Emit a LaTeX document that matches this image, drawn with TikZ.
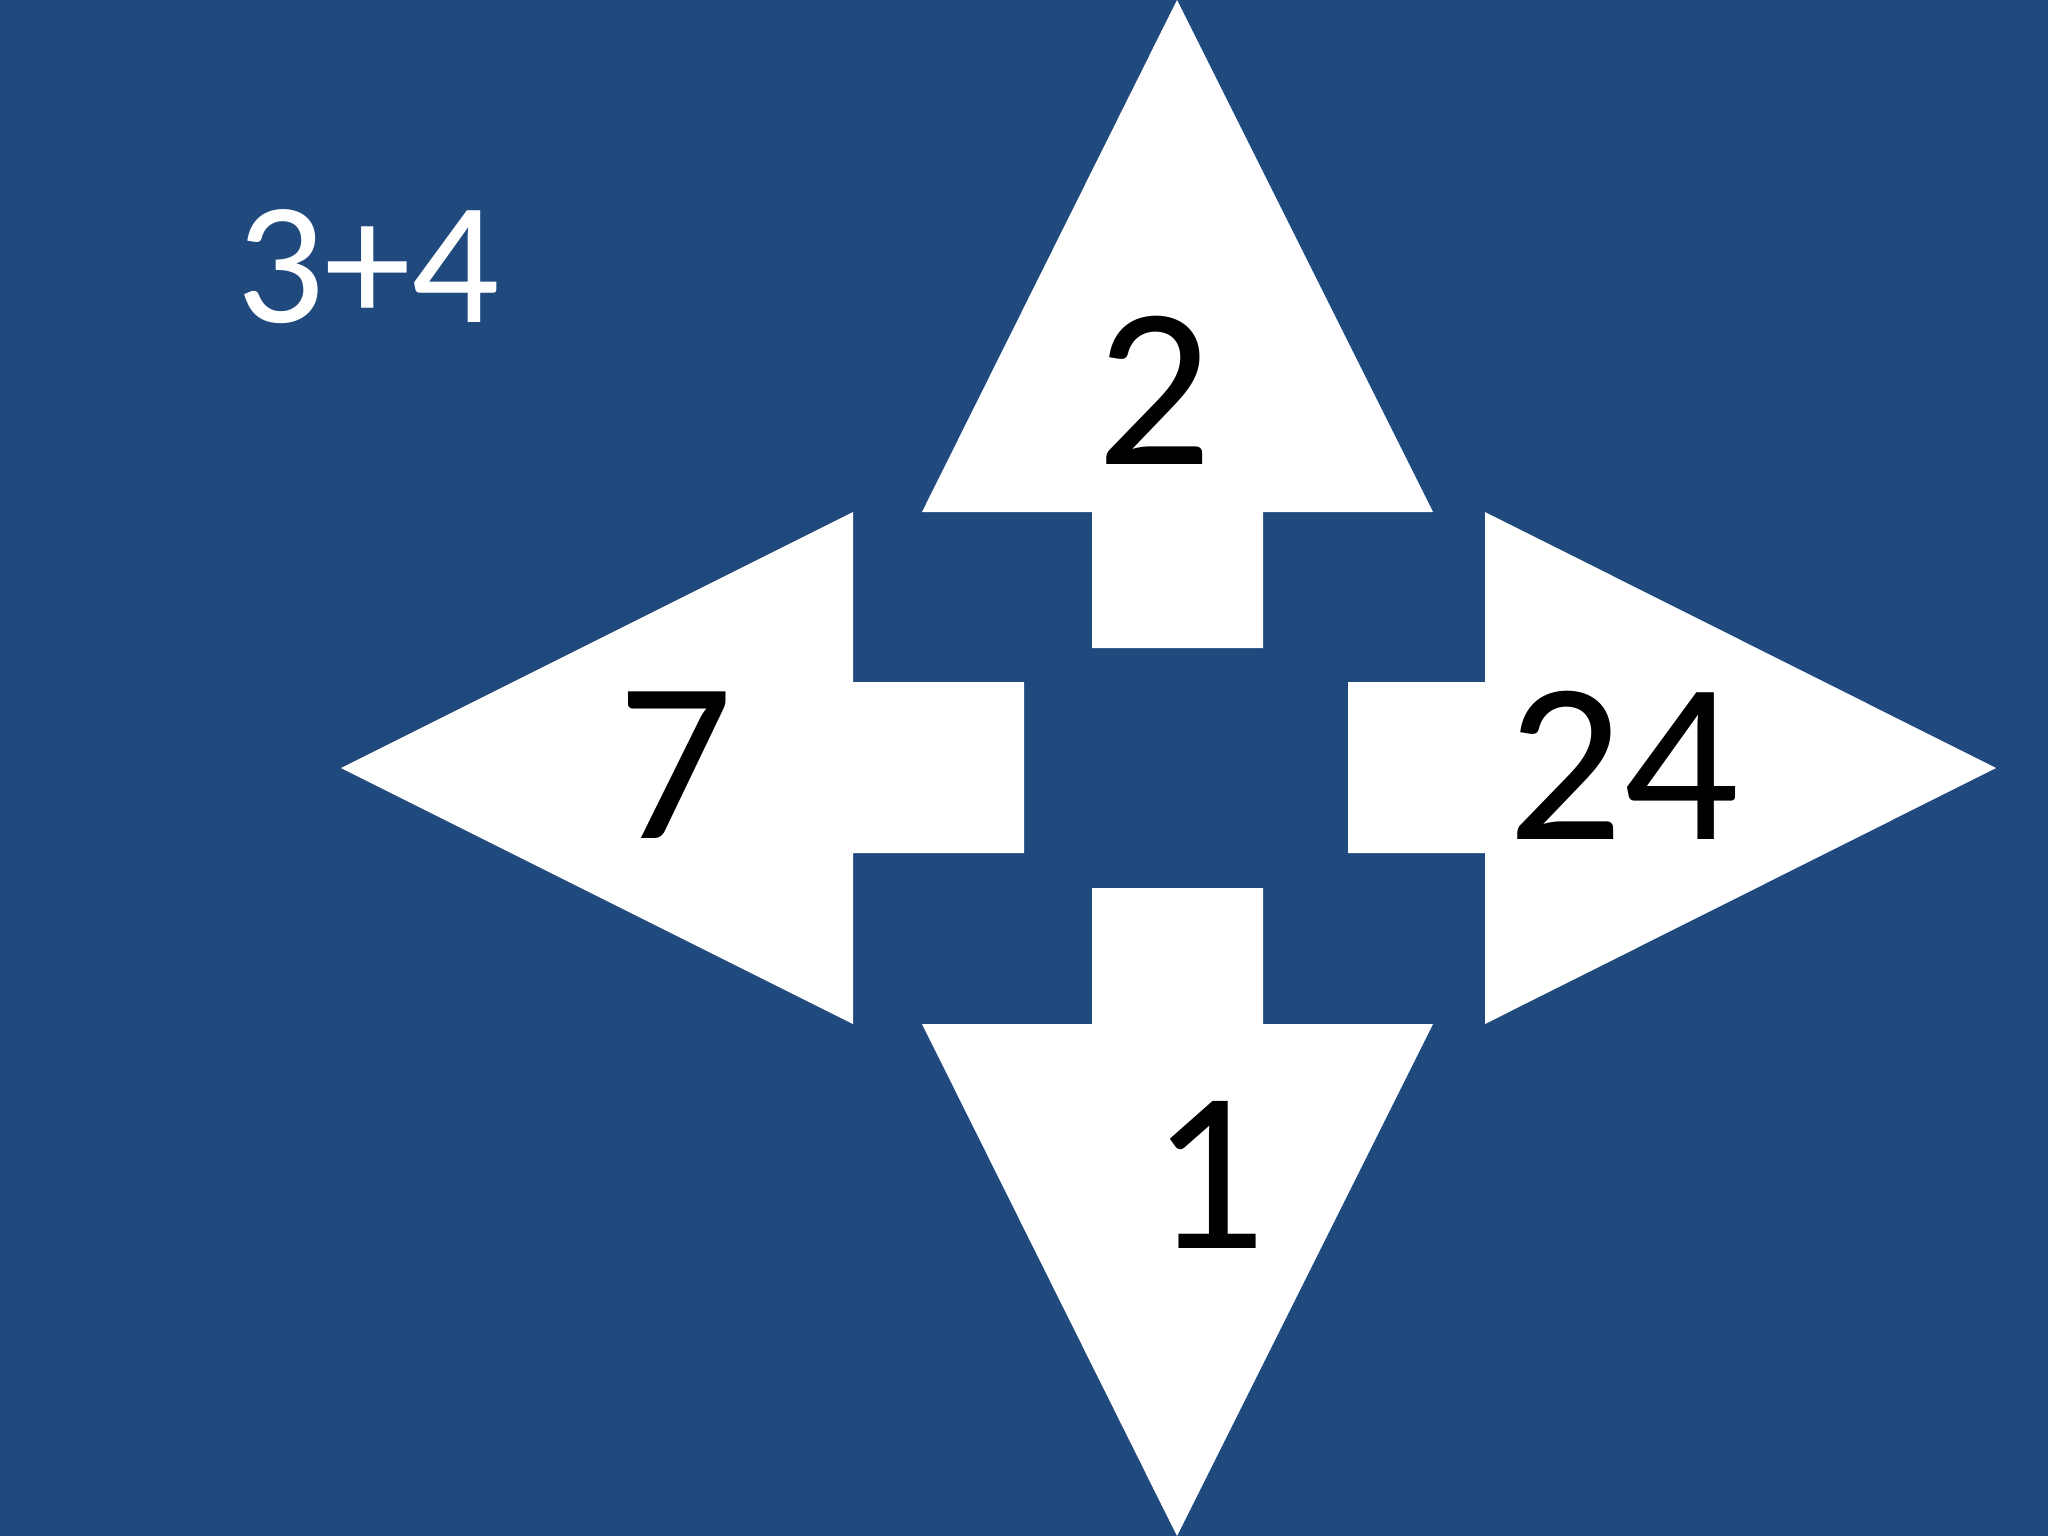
\documentclass[tikz,border=0pt]{standalone}
\usepackage{fontspec}
\setmainfont{Carlito}
\definecolor{bgblue}{RGB}{32,74,126}
\tikzset{
  arrowshape/.style={fill=white, draw=none},
  biglabel/.style={inner sep=0pt, text=black, font=\fontsize{65}{70}\selectfont},
  smalllabel/.style={inner sep=0pt, text=white, font=\fontsize{49.5}{55}\selectfont}
}
\begin{document}
\begin{tikzpicture}[x=0.01cm, y=-0.01cm]
\fill[bgblue] (0,0) rectangle (2048,1536);
\useasboundingbox (0,0) rectangle (2048,1536);
% up arrow
\fill[arrowshape] (1177,0) -- (1433,512) -- (1263,512) -- (1263,648) -- (1092,648) -- (1092,512) -- (922,512) -- cycle;
% down arrow
\fill[arrowshape] (1177,1536) -- (1433,1024) -- (1263,1024) -- (1263,888) -- (1092,888) -- (1092,1024) -- (922,1024) -- cycle;
% left arrow
\fill[arrowshape] (341,768) -- (853,512) -- (853,682) -- (1024,682) -- (1024,853) -- (853,853) -- (853,1024) -- cycle;
% right arrow
\fill[arrowshape] (1996,768) -- (1485,512) -- (1485,682) -- (1348,682) -- (1348,853) -- (1485,853) -- (1485,1024) -- cycle;
\node[biglabel] (two) at (1154,390) {2};
\node[biglabel] (seven) at (675,765) {7};
\node[biglabel] (twentyfour) at (1623,765) {24};
\node[biglabel] (one) at (1208,1175) {1};
\node[smalllabel] (sum) at (368,267) {3+4};
\end{tikzpicture}
\end{document}
